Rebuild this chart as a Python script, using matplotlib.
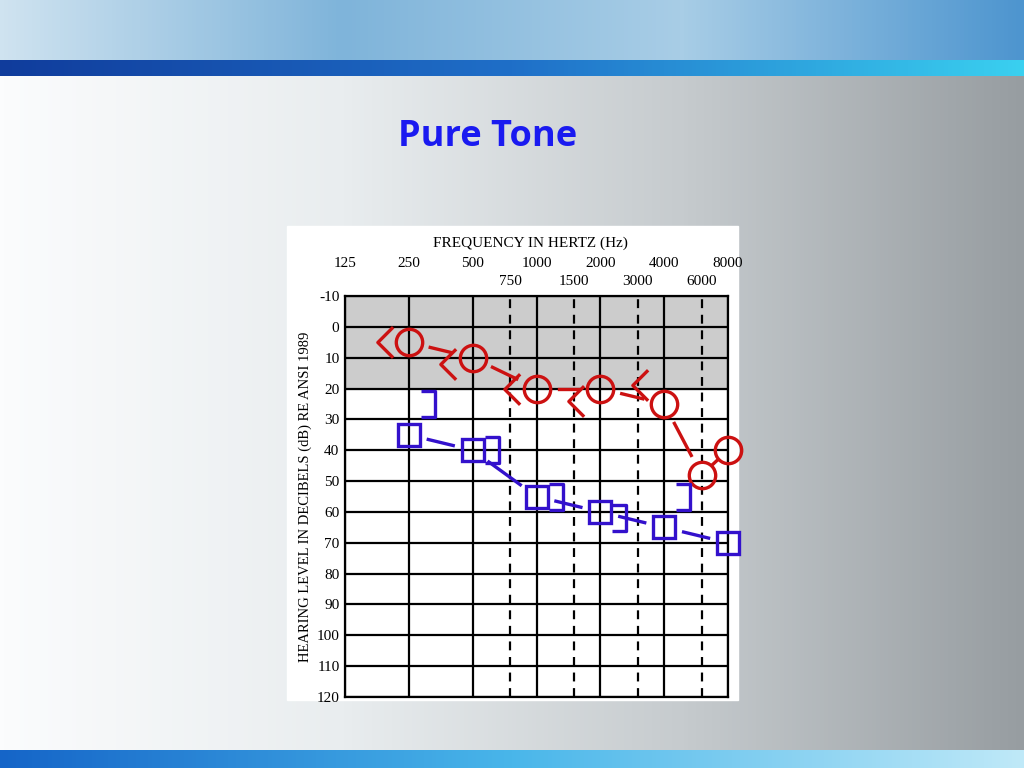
import numpy as np
import matplotlib.pyplot as plt
from matplotlib.path import Path
from matplotlib.colors import LinearSegmentedColormap

# audiogram values (dB HL)
freqs = [250, 500, 1000, 2000, 4000, 6000, 8000]
right_air = [5, 10, 20, 20, 25, 48, 40]
bone_freqs = [250, 500, 1000, 2000, 4000]
right_bone = [5, 12, 20, 24, 19]
left_air_freqs = [250, 500, 1000, 2000, 4000, 8000]
left_air = [35, 40, 55, 60, 65, 70]
left_bone = [25, 40, 55, 62, 55]

main_ticks = [125, 250, 500, 1000, 2000, 4000, 8000]
mid_ticks = [750, 1500, 3000, 6000]
db_ticks = list(range(-10, 121, 10))

RED = '#cc1111'
BLUE = '#3311cc'


def octv(f):
    return np.log2(np.asarray(f, dtype=float) / 125)


fig = plt.figure(figsize=(10.24, 7.68), dpi=100)

# slide background
bg = fig.add_axes([0, 0, 1, 1])
bg.set_axis_off()
g = np.linspace(0, 1, 256)
grad = np.tile(g, (2, 1))
bg.imshow(grad, extent=[0, 1, 0, 1], aspect='auto',
          cmap=LinearSegmentedColormap.from_list('bg', ['#fbfcfd', '#e9edef', '#c6cbce', '#979da1']))
sky = np.tile(np.linspace(0, 1, 256), (2, 1))
bg.imshow(sky, extent=[0, 1, 1 - 60 / 768, 1], aspect='auto',
          cmap=LinearSegmentedColormap.from_list('sky', ['#cfe3f0', '#7fb4da', '#a8cde6', '#4d95cf']))
bg.imshow(sky, extent=[0, 1, 1 - 76 / 768, 1 - 60 / 768], aspect='auto',
          cmap=LinearSegmentedColormap.from_list('band', ['#103c9c', '#1f6fc8', '#3ad0f0']))
bg.imshow(sky, extent=[0, 1, 0, 18 / 768], aspect='auto',
          cmap=LinearSegmentedColormap.from_list('band2', ['#1565c8', '#49b6ea', '#bfe9f8']))
bg.add_patch(plt.Rectangle((287 / 1024, 1 - 700 / 768), 451 / 1024, 474 / 768,
                           color='white', zorder=3))
bg.set_xlim(0, 1)
bg.set_ylim(0, 1)
fig.text(488 / 1024, 1 - 137 / 768, 'Pure Tone', ha='center', va='center',
         fontsize=26, fontweight='bold', color='#1a1af0', family='Open Sans')

ax = fig.add_axes([345 / 1024, 71 / 768, 383 / 1024, 401 / 768])
ax.set_xlim(0, 6)
ax.set_ylim(120, -10)
ax.axhspan(-10, 20, color='#cccccc', zorder=0)
for f in main_ticks:
    ax.axvline(octv(f), color='black', lw=1.6, zorder=1)
for f in mid_ticks:
    ax.axvline(octv(f), color='black', lw=1.6, ls=(0, (4, 3)), zorder=1)
for d in db_ticks:
    ax.axhline(d, color='black', lw=1.6, zorder=1)
for s in ax.spines.values():
    s.set_linewidth(1.6)

serif = 'Liberation Serif'
ax.set_yticks(db_ticks)
ax.set_yticklabels([str(d) for d in db_ticks], family=serif, fontsize=11)
ax.tick_params(length=0, pad=4)
ax.set_xticks([])
for f in main_ticks:
    ax.text(octv(f), -18.5, str(f), ha='center', va='bottom', family=serif, fontsize=11)
for f in mid_ticks:
    ax.text(octv(f), -12.5, str(f), ha='center', va='bottom', family=serif, fontsize=11)
ax.text(2.9, -25, 'FREQUENCY IN HERTZ (Hz)', ha='center', va='bottom', family=serif, fontsize=11)
ax.set_ylabel('HEARING LEVEL IN DECIBELS (dB) RE ANSI 1989', family=serif, fontsize=10.5, labelpad=3)

fig.canvas.draw()


def gapped(xs, ys, color, gap=22):
    pts = ax.transData.transform(np.column_stack([xs, ys]))
    inv = ax.transData.inverted()
    for a, b in zip(pts[:-1], pts[1:]):
        v = b - a
        n = np.hypot(*v)
        if n <= 2 * gap:
            a2, b2 = a + v * 0.42, b - v * 0.42
        else:
            a2, b2 = a + v / n * gap, b - v / n * gap
        seg = inv.transform(np.array([a2, b2]))
        ax.plot(seg[:, 0], seg[:, 1], color=color, lw=2.4, zorder=3, clip_on=False)


lt = Path([(0.5, 1), (-0.5, 0), (0.5, -1)], [Path.MOVETO, Path.LINETO, Path.LINETO])
br = Path([(-0.5, 1), (0.5, 1), (0.5, -1), (-0.5, -1)],
          [Path.MOVETO, Path.LINETO, Path.LINETO, Path.LINETO])

gapped(octv(freqs), right_air, RED)
ax.plot(octv(freqs), right_air, 'o', ms=19, mfc='none', mec=RED, mew=2.4, zorder=4, clip_on=False)
gapped(octv(left_air_freqs), left_air, BLUE, gap=20)
ax.plot(octv(left_air_freqs), left_air, 's', ms=16, mfc='none', mec=BLUE, mew=2.4, zorder=4, clip_on=False)
ax.plot(octv(bone_freqs) - 0.38, right_bone, ls='none', marker=lt, ms=22, mfc='none',
        mec=RED, mew=2.4, zorder=4)
ax.plot(octv(bone_freqs) + 0.3, left_bone, ls='none', marker=br, ms=19, mfc='none',
        mec=BLUE, mew=2.4, zorder=4)

fig.savefig('out.png', dpi=100)
